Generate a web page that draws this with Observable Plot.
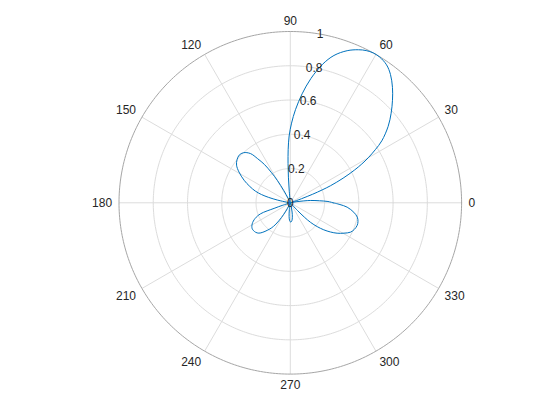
<!DOCTYPE html>
<html>
<head>
<meta charset="utf-8">
<script src="https://cdn.jsdelivr.net/npm/d3@7"></script>
<script src="https://cdn.jsdelivr.net/npm/@observablehq/plot@0.6"></script>
<style>
  html, body { margin: 0; padding: 0; background: #ffffff; }
  #chart { width: 560px; height: 420px; }
</style>
</head>
<body>
<div id="chart"></div>
<script>
// Curve samples: angle in degrees, radius (0..1)
const thetaDeg = [
  0, 2, 4, 6.5, 8, 10, 12, 16,
  19, 20, 21, 22, 23, 25, 27, 28.5, 30, 32, 34.1, 38, 41.6, 45.1, 48.5, 52, 55.1, 58.5, 61, 63.5, 66, 69.5, 73.5, 76.9, 80.6, 83.8, 86.8, 89.1, 91, 92.3, 93.3, 94.2, 95, 96,
  112, 116, 118, 120, 122, 124, 126.5, 129, 133, 137, 141, 145, 149, 154, 158, 161.5, 164, 166, 168, 170, 171,
  196, 198, 199, 200.3, 204, 208.9, 214.3, 220.2, 224, 227, 230, 233, 236, 239, 242, 245, 247,
  258, 262, 265, 268, 271.5, 275, 278, 281, 284, 287,
  311, 313, 314.5, 316, 318.5, 321.1, 324, 327, 330.5, 334, 337.5, 341.3, 344.5, 347.9, 351.5, 355.6, 358, 360
];
const rho = [
  0.25, 0.22, 0.17, 0.12, 0.08, 0.04, 0, 0,
  0, 0.07, 0.14, 0.2, 0.255, 0.34, 0.42, 0.475, 0.525, 0.585, 0.645, 0.725, 0.787, 0.845, 0.9, 0.95, 0.982, 0.998, 1.0, 0.993, 0.978, 0.948, 0.897, 0.83, 0.735, 0.64, 0.545, 0.465, 0.39, 0.31, 0.23, 0.15, 0.075, 0,
  0, 0.03, 0.08, 0.15, 0.21, 0.27, 0.32, 0.37, 0.40, 0.408, 0.40, 0.383, 0.35, 0.30, 0.255, 0.215, 0.175, 0.13, 0.075, 0.02, 0,
  0, 0.05, 0.10, 0.185, 0.225, 0.254, 0.269, 0.266, 0.255, 0.235, 0.21, 0.185, 0.15, 0.10, 0.055, 0.02, 0,
  0, 0.04, 0.08, 0.105, 0.113, 0.105, 0.085, 0.055, 0.025, 0,
  0, 0.06, 0.12, 0.165, 0.21, 0.251, 0.29, 0.326, 0.36, 0.391, 0.405, 0.412, 0.41, 0.40, 0.375, 0.333, 0.29, 0.25
];

// Axis ticks
const angleTicks = [0, 30, 60, 90, 120, 150, 180, 210, 240, 270, 300, 330];
const angleLabels = ["0", "30", "60", "90", "120", "150", "180", "210", "240", "270", "300", "330"];
const radiusTicks = [0, 0.2, 0.4, 0.6, 0.8, 1];
const radiusLabels = ["0", "0.2", "0.4", "0.6", "0.8", "1"];
const radiusLabelAngle = 80;

const rad = d => d * Math.PI / 180;
const px = (r, a) => r * Math.cos(rad(a));
const py = (r, a) => r * Math.sin(rad(a));

const curveData = thetaDeg.map((t, i) => ({t, r: rho[i]}));

const ringSteps = d3.range(0, 361, 1);
const innerRings = radiusTicks.filter(r => r > 0 && r < 1)
  .flatMap(r => ringSteps.map(a => ({r, a})));
const outerRing = ringSteps.map(a => ({r: 1, a}));

const labelR = 1.04;
function anchorsFor(a) {
  const c = Math.cos(rad(a)), s = Math.sin(rad(a));
  const ta = c > 0.1 ? "start" : c < -0.1 ? "end" : "middle";
  const la = s > 0.1 ? "bottom" : s < -0.1 ? "top" : "middle";
  return ta + "|" + la;
}
const labelGroups = d3.groups(angleTicks.map((a, i) => ({a, label: angleLabels[i]})), d => anchorsFor(d.a));

const font = "'Liberation Sans', Arial, Helvetica, sans-serif";
const textColor = "#262626";

const R = 171.3, cx = 289.8, cy = 202.3, W = 560, H = 420;

const plot = Plot.plot({
  width: W,
  height: H,
  marginLeft: cx - R,
  marginRight: W - cx - R,
  marginTop: cy - R,
  marginBottom: H - cy - R,
  x: {domain: [-1, 1], axis: null},
  y: {domain: [-1, 1], axis: null},
  style: {fontFamily: font, fontSize: "12px", background: "#ffffff"},
  marks: [
    Plot.line(innerRings, {x: d => px(d.r, d.a), y: d => py(d.r, d.a), z: "r", stroke: "#dcdcdc", strokeWidth: 1}),
    Plot.link(angleTicks, {x1: 0, y1: 0, x2: a => px(1, a), y2: a => py(1, a), stroke: "#dcdcdc", strokeWidth: 1}),
    Plot.line(outerRing, {x: d => px(d.r, d.a), y: d => py(d.r, d.a), stroke: "#a6a6a6", strokeWidth: 1}),
    Plot.line(curveData, {x: d => px(d.r, d.t), y: d => py(d.r, d.t), stroke: "#0072BD", strokeWidth: 1, curve: "catmull-rom"}),
    ...labelGroups.map(([key, items]) => {
      const [ta, la] = key.split("|");
      return Plot.text(items, {
        x: d => px(labelR, d.a), y: d => py(labelR, d.a), text: "label",
        textAnchor: ta, lineAnchor: la, fill: textColor, fontSize: 12, fontFamily: font
      });
    }),
    Plot.text(radiusTicks, {
      x: r => px(r, radiusLabelAngle), y: r => py(r, radiusLabelAngle),
      text: (r, i) => radiusLabels[i],
      textAnchor: "middle", lineAnchor: "middle", fill: textColor, fontSize: 12, fontFamily: font
    })
  ]
});
document.getElementById("chart").appendChild(plot);
</script>
</body>
</html>
